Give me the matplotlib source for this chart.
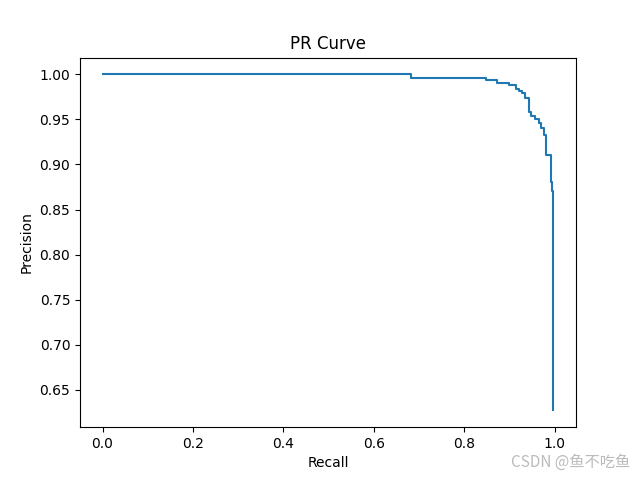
import matplotlib
matplotlib.use("Agg")
import matplotlib.pyplot as plt

# values (step vertices)
recall = [0.0, 0.681, 0.848, 0.872, 0.899, 0.914, 0.921, 0.927, 0.934,
          0.943, 0.947, 0.956, 0.965, 0.969, 0.976, 0.980, 0.991, 0.993, 0.997, 0.997]
precision = [1.000, 0.996, 0.994, 0.991, 0.988, 0.984, 0.982, 0.979, 0.974,
             0.958, 0.954, 0.951, 0.946, 0.940, 0.933, 0.910, 0.881, 0.871, 0.870, 0.627]

fig, ax = plt.subplots(figsize=(6.4, 4.8), dpi=100)
ax.step(recall, precision, where="post")
ax.set_title("PR Curve")
ax.set_xlabel("Recall")
ax.set_ylabel("Precision")
fig.text(0.985, 0.02, "CSDN @鱼不吃鱼", ha="right", va="bottom", fontsize=11,
         color="#bbbbbb", family=["Noto Sans CJK SC", "DejaVu Sans"])
fig.savefig("out.png")
